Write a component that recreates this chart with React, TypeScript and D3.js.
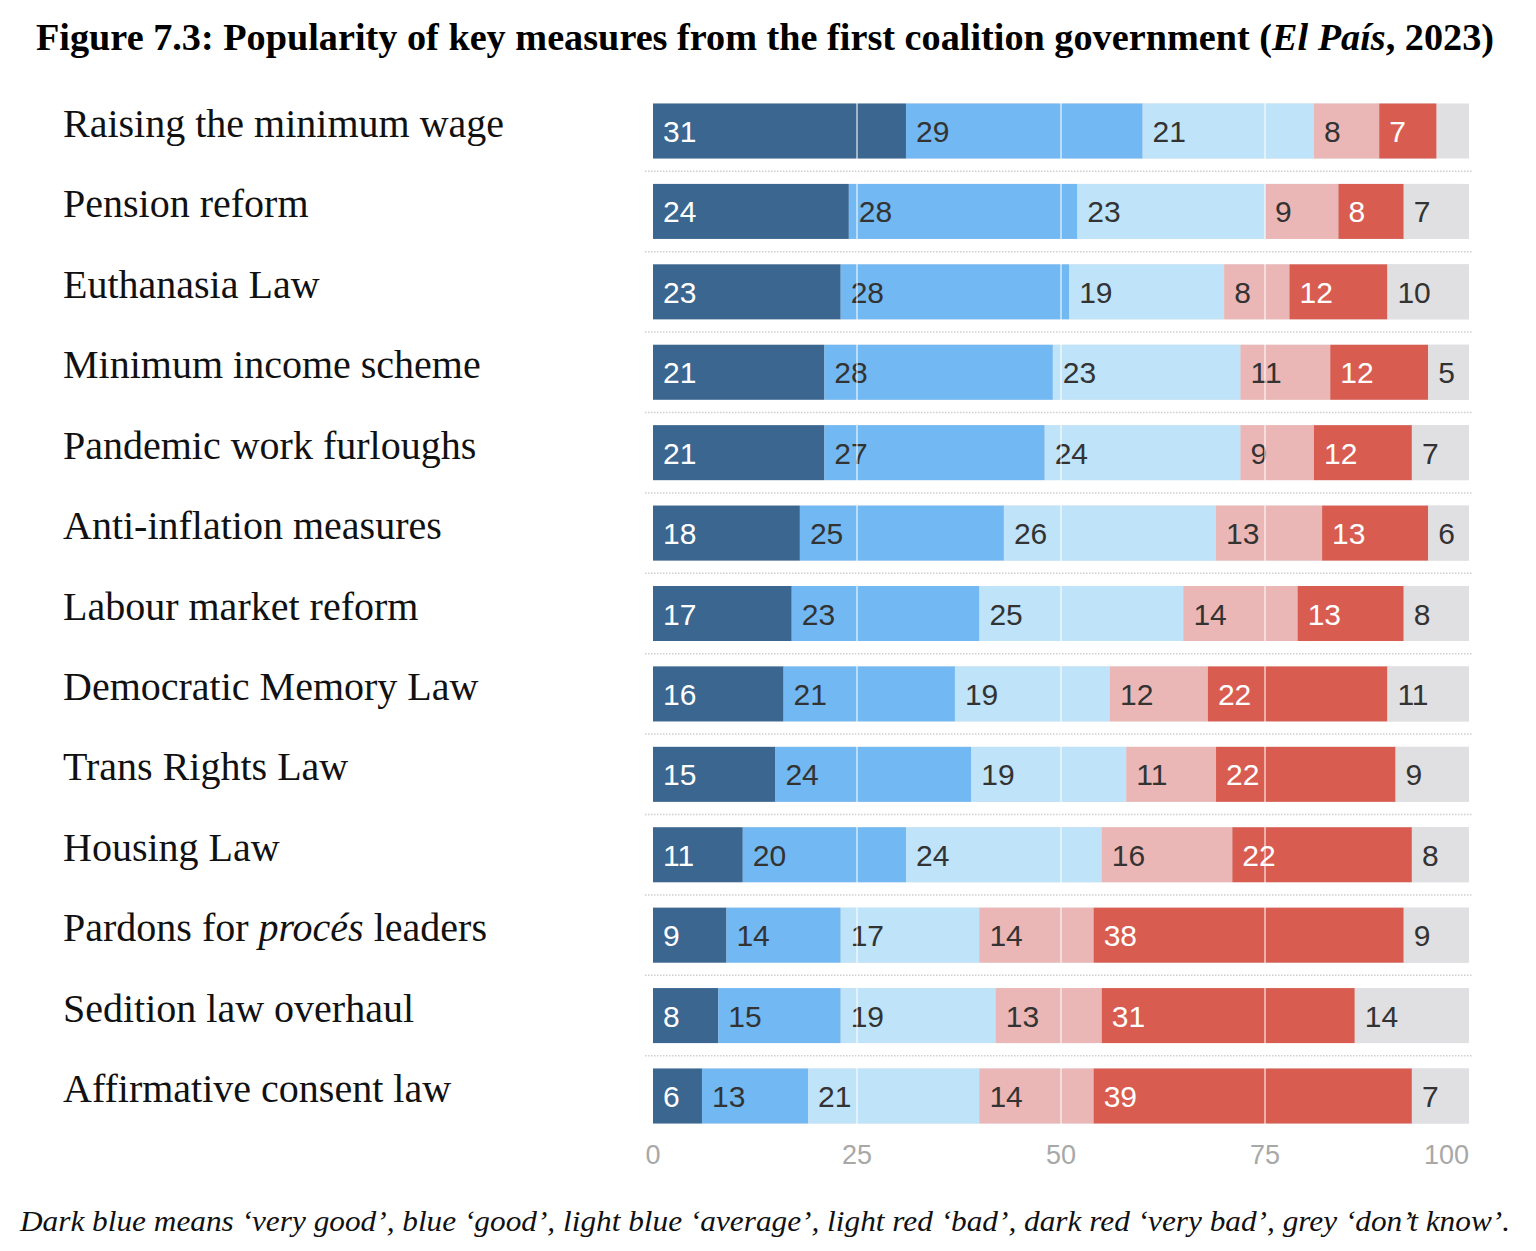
import React, { useEffect, useRef } from 'react';
import * as d3 from 'd3';

// survey answers per measure, in percent
const measures = [
  'Raising the minimum wage',
  'Pension reform',
  'Euthanasia Law',
  'Minimum income scheme',
  'Pandemic work furloughs',
  'Anti-inflation measures',
  'Labour market reform',
  'Democratic Memory Law',
  'Trans Rights Law',
  'Housing Law',
  'Pardons for procés leaders',
  'Sedition law overhaul',
  'Affirmative consent law',
];
const veryGood = [31, 24, 23, 21, 21, 18, 17, 16, 15, 11, 9, 8, 6];
const good = [29, 28, 28, 28, 27, 25, 23, 21, 24, 20, 14, 15, 13];
const average = [21, 23, 19, 23, 24, 26, 25, 19, 19, 24, 17, 19, 21];
const bad = [8, 9, 8, 11, 9, 13, 14, 12, 11, 16, 14, 13, 14];
const veryBad = [7, 8, 12, 12, 12, 13, 13, 22, 22, 22, 38, 31, 39];
const dontKnow: (number | null)[] = [null, 7, 10, 5, 7, 6, 8, 11, 9, 8, 9, 14, 7];
const ticks = [0, 25, 50, 75, 100];

const answers = [
  { key: 'veryGood', values: veryGood, fill: '#3b6690', text: '#ffffff' },
  { key: 'good', values: good, fill: '#72b8f2', text: '#333333' },
  { key: 'average', values: average, fill: '#bfe3f9', text: '#333333' },
  { key: 'bad', values: bad, fill: '#ebb7b6', text: '#333333' },
  { key: 'veryBad', values: veryBad, fill: '#d95c51', text: '#ffffff' },
  { key: 'dontKnow', values: dontKnow, fill: '#e0e0e2', text: '#333333' },
];

const SANS = '"Liberation Sans", Arial, sans-serif';
const SERIF = '"Liberation Serif", "Times New Roman", serif';

const App = () => {
  const ref = useRef<SVGSVGElement>(null);

  useEffect(() => {
    const svg = d3.select(ref.current);
    svg.selectAll('*').remove();

    const x = d3.scaleLinear().domain([0, 100]).range([653, 1469]).clamp(true);
    const y = d3.scaleBand().domain(measures).range([103.5, 1123.5]).paddingInner(0.316);
    const bh = y.bandwidth();

    // title
    const title = svg.append('text')
      .attr('x', 36).attr('y', 50)
      .attr('textLength', 1458).attr('lengthAdjust', 'spacingAndGlyphs')
      .attr('font-family', SERIF).attr('font-weight', 'bold').attr('font-size', 37)
      .attr('fill', '#000');
    title.append('tspan').text('Figure 7.3: Popularity of key measures from the first coalition government (');
    title.append('tspan').attr('font-style', 'italic').text('El País');
    title.append('tspan').text(', 2023)');

    // row labels
    measures.forEach((m) => {
      const t = svg.append('text')
        .attr('x', 63).attr('y', y(m)! + bh / 2 + 6)
        .attr('font-family', SERIF).attr('font-size', 40).attr('fill', '#111');
      if (m.includes('procés')) {
        t.append('tspan').text('Pardons for ');
        t.append('tspan').attr('font-style', 'italic').text('procés');
        t.append('tspan').text(' leaders');
      } else {
        t.text(m);
      }
    });

    // dotted separators between rows
    measures.slice(0, -1).forEach((m) => {
      const sy = y(m)! + y.step() - (y.step() - bh) / 2;
      svg.append('line')
        .attr('x1', 645).attr('x2', 1472).attr('y1', sy).attr('y2', sy)
        .attr('stroke', '#cfcfcf').attr('stroke-width', 1.5).attr('stroke-dasharray', '1.5,1.5');
    });

    // grey track behind each bar
    svg.append('g').selectAll('rect').data(measures).join('rect')
      .attr('x', x(0)).attr('width', x(100) - x(0))
      .attr('y', (d) => y(d)!).attr('height', bh)
      .attr('fill', '#e0e0e2');

    // stacked segments, cut at 100 where rounding pushes the total over
    const g = svg.append('g');
    measures.forEach((m, i) => {
      let start = 0;
      answers.forEach((a) => {
        const v = a.values[i];
        if (v == null) return;
        g.append('rect')
          .attr('x', x(start)).attr('width', x(start + v) - x(start))
          .attr('y', y(m)!).attr('height', bh)
          .attr('fill', a.fill);
        g.append('text')
          .attr('x', x(start) + 10).attr('y', y(m)! + bh / 2 + 11)
          .attr('font-family', SANS).attr('font-size', 30)
          .attr('fill', a.text).text(v);
        start += v;
      });
    });

    // white gridlines at the quarter marks
    svg.append('g').selectAll('line').data([25, 50, 75]).join('line')
      .attr('x1', (d) => x(d)).attr('x2', (d) => x(d))
      .attr('y1', 95).attr('y2', 1130)
      .attr('stroke', '#ffffff').attr('stroke-opacity', 0.7).attr('stroke-width', 1.5);

    // axis tick labels
    svg.append('g').selectAll('text').data(ticks).join('text')
      .attr('x', (d) => x(d)).attr('y', 1164)
      .attr('text-anchor', (d) => (d === 100 ? 'end' : 'middle'))
      .attr('font-family', SANS).attr('font-size', 27).attr('fill', '#a8a8a8')
      .text((d) => d);

    // caption
    svg.append('text')
      .attr('x', 20).attr('y', 1231)
      .attr('textLength', 1490).attr('lengthAdjust', 'spacingAndGlyphs')
      .attr('font-family', SERIF).attr('font-style', 'italic').attr('font-size', 30)
      .attr('fill', '#111')
      .text('Dark blue means ‘very good’, blue ‘good’, light blue ‘average’, light red ‘bad’, dark red ‘very bad’, grey ‘don’t know’.');
  }, []);

  return (
    <svg ref={ref} width={1536} height={1251}
      style={{ position: 'absolute', left: 0, top: 0, background: '#fff' }} />
  );
};

export default App;
